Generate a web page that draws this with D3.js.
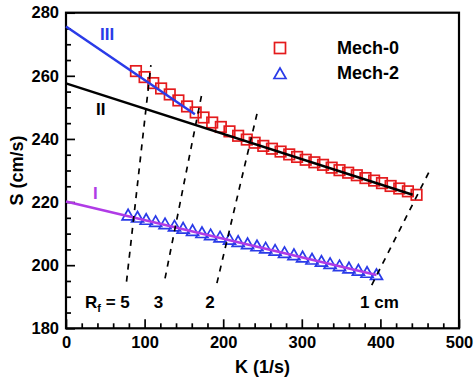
<!DOCTYPE html>
<html>
<head>
<meta charset="utf-8">
<script src="https://cdn.jsdelivr.net/npm/d3@7"></script>
<style>
html,body{margin:0;padding:0;background:#fff;}
svg{display:block;font-family:"Liberation Sans",Arial,Helvetica,sans-serif;font-weight:bold;}
</style>
</head>
<body>
<svg id="chart" width="474" height="380"></svg>
<script>
// ---------- data ----------
const mech0K = [89,100,111,121,132,143,154,165,175,186,197,208,219,230,240,251,262,273,284,294,305,316,327,338,348,359,370,381,392,402,413,424,435,446];
const mech0S = [261.5,259.6,257.7,256.0,254.1,252.2,250.3,248.4,246.8,245.2,243.8,242.4,241.0,239.8,238.8,237.8,236.9,236.0,235.1,234.3,233.4,232.6,231.8,230.9,230.1,229.3,228.5,227.6,226.8,226.0,225.1,224.3,223.4,222.3];
const mech2K = [79,91,102,114,126,138,149,161,173,184,196,208,219,231,243,254,266,278,290,301,313,325,336,348,360,372,383,395];
const mech2S = [215.8,215.1,214.4,213.7,213.0,212.3,211.6,210.9,210.2,209.5,208.8,208.1,207.4,206.7,206.0,205.3,204.6,203.9,203.2,202.5,201.8,201.1,200.4,199.7,199.0,198.3,197.6,196.9];
const lineIK = [0,395], lineIS = [220.2,196.9];
const lineIIK = [0,441], lineIIS = [257.6,222.3];
const lineIIIK = [0,164], lineIIIS = [275.6,247.8];
const rfLabels = ["5","3","2","1 cm"];
const rfK = [[77,108],[126,173],[192,243],[389,462]];
const rfS = [[194.8,263.4],[195.8,254.5],[194.3,248.0],[193.7,229.6]];
const xTicks = [0,100,200,300,400,500];
const yTicks = [180,200,220,240,260,280];
const legendNames = ["Mech-0","Mech-2"];

// ---------- layout ----------
const svg = d3.select("#chart");
const x = d3.scaleLinear().domain([0,500]).range([66,459]);
const y = d3.scaleLinear().domain([180,280]).range([328.3,12.7]);
const red = "#e41a1c", blue = "#2a3be8", magenta = "#b03be6";

// axes (ticks inward)
const xMinor = d3.range(0,501,20).filter(v=>v%100!==0);
const yMinor = d3.range(180,281,5).filter(v=>v%20!==0);
const gx = svg.append("g").attr("transform",`translate(0,${y(180)})`);
gx.call(d3.axisBottom(x).tickValues(xTicks).tickSize(-9).tickPadding(8).tickFormat(d3.format("d")));
const gxm = svg.append("g").attr("transform",`translate(0,${y(180)})`);
gxm.call(d3.axisBottom(x).tickValues(xMinor).tickSize(-5).tickFormat(""));
const gy = svg.append("g").attr("transform",`translate(${x(0)},0)`);
gy.call(d3.axisLeft(y).tickValues(yTicks).tickSize(-9).tickPadding(7).tickFormat(d3.format("d")));
const gym = svg.append("g").attr("transform",`translate(${x(0)},0)`);
gym.call(d3.axisLeft(y).tickValues(yMinor).tickSize(-5).tickFormat(""));
svg.selectAll(".domain").remove();
svg.selectAll(".tick line").attr("stroke","#000").attr("stroke-width",1.7);
svg.selectAll(".tick text").attr("fill","#000").style("font-size","16.5px").style("font-weight","bold")
  .style("font-family",'"Liberation Sans",Arial,sans-serif');

// frame
svg.append("rect").attr("x",x(0)).attr("y",y(280)).attr("width",x(500)-x(0)).attr("height",y(180)-y(280))
  .attr("fill","none").attr("stroke","#000").attr("stroke-width",2.2);

// axis titles
svg.append("text").attr("x",(x(0)+x(500))/2).attr("y",373).attr("text-anchor","middle")
  .style("font-size","18px").text("K (1/s)");
svg.append("text").attr("transform",`translate(23,${(y(180)+y(280))/2}) rotate(-90)`).attr("text-anchor","middle")
  .style("font-size","18px").text("S (cm/s)");

// markers
const sq = 10.5;
svg.append("g").selectAll("rect").data(mech0K.map((k,i)=>[k,mech0S[i]])).join("rect")
  .attr("x",d=>x(d[0])-sq/2).attr("y",d=>y(d[1])-sq/2).attr("width",sq).attr("height",sq)
  .attr("fill","none").attr("stroke",red).attr("stroke-width",1.7);
const tri = (cx,cy)=>`M${cx-6},${cy+4.5}L${cx+6},${cy+4.5}L${cx},${cy-6}Z`;
svg.append("g").selectAll("path").data(mech2K.map((k,i)=>[k,mech2S[i]])).join("path")
  .attr("d",d=>tri(x(d[0]),y(d[1])))
  .attr("fill","none").attr("stroke",blue).attr("stroke-width",1.7);

// fitted lines
const line = d3.line().x(d=>x(d[0])).y(d=>y(d[1]));
const fits = [
  {k:lineIK,s:lineIS,c:magenta},
  {k:lineIIK,s:lineIIS,c:"#000"},
  {k:lineIIIK,s:lineIIIS,c:blue}
];
fits.forEach(f=>{
  svg.append("path").attr("d",line(f.k.map((k,i)=>[k,f.s[i]])))
    .attr("fill","none").attr("stroke",f.c).attr("stroke-width",2.5);
});

// dashed Rf lines
rfK.forEach((ks,j)=>{
  svg.append("path").attr("d",line(ks.map((k,i)=>[k,rfS[j][i]])))
    .attr("fill","none").attr("stroke","#000").attr("stroke-width",1.7).attr("stroke-dasharray","6,6");
});

// line labels
svg.append("text").attr("x",100).attr("y",40).attr("fill",blue).style("font-size","17px").text("III");
svg.append("text").attr("x",96).attr("y",115).attr("fill","#000").style("font-size","17px").text("II");
svg.append("text").attr("x",93).attr("y",199).attr("fill",magenta).style("font-size","17px").text("I");

// Rf labels
const rl = svg.append("text").attr("x",85).attr("y",308).style("font-size","17px");
rl.append("tspan").text("R");
rl.append("tspan").attr("dy",4).style("font-size","11px").text("f");
rl.append("tspan").attr("dy",-4).text(" = " + rfLabels[0]);
svg.append("text").attr("x",158.5).attr("y",308).attr("text-anchor","middle").style("font-size","17px").text(rfLabels[1]);
svg.append("text").attr("x",210).attr("y",308).attr("text-anchor","middle").style("font-size","17px").text(rfLabels[2]);
svg.append("text").attr("x",360).attr("y",308).style("font-size","17px").text(rfLabels[3]);

// legend
svg.append("rect").attr("x",280-5.5).attr("y",48-5.5).attr("width",11).attr("height",11)
  .attr("fill","none").attr("stroke",red).attr("stroke-width",1.7);
svg.append("path").attr("d",tri(280,74)).attr("fill","none").attr("stroke",blue).attr("stroke-width",1.7);
svg.append("text").attr("x",337).attr("y",54).style("font-size","18px").text(legendNames[0]);
svg.append("text").attr("x",337).attr("y",79).style("font-size","18px").text(legendNames[1]);
</script>
</body>
</html>
